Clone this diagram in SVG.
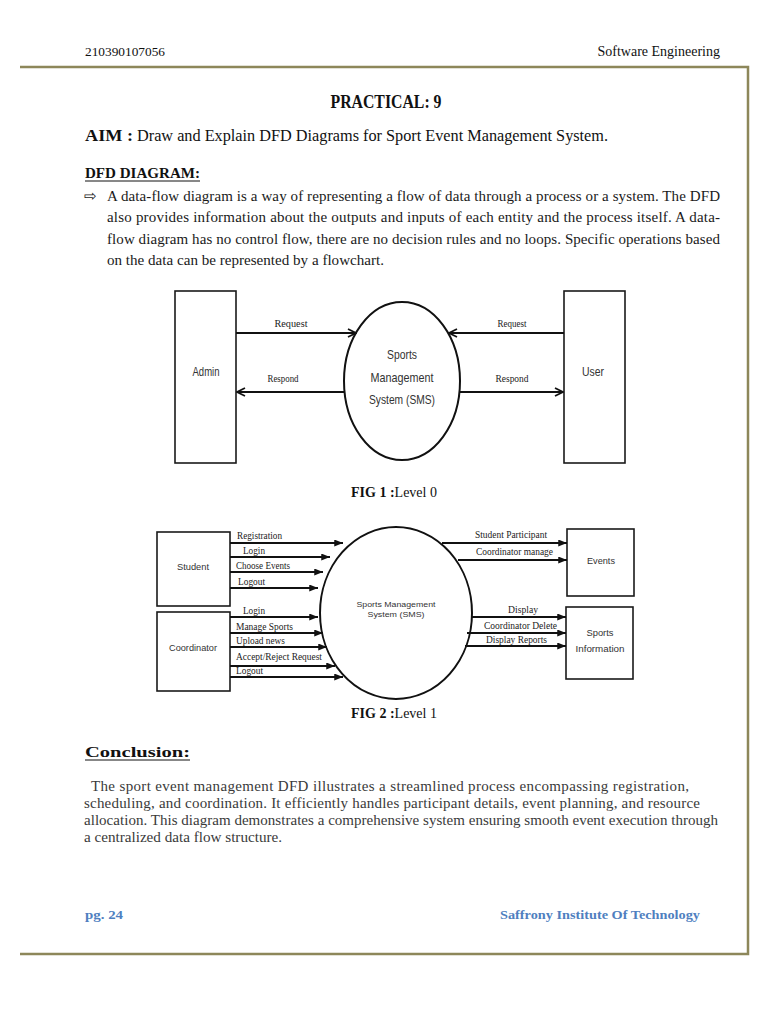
<svg xmlns="http://www.w3.org/2000/svg" width="768" height="1024" viewBox="0 0 768 1024">
<style>
.serif{font-family:"Liberation Serif","Times New Roman",serif;fill:#111}
.body{font-family:"Liberation Serif","Times New Roman",serif;font-size:15px;fill:#1a1a1a}
.concl{font-family:"Liberation Serif","Times New Roman",serif;font-size:15px;fill:#3a3a3a}
.lbl1{font-family:"Liberation Serif",serif;font-size:11px;fill:#222;text-anchor:middle}
.lbl2{font-family:"Liberation Serif",serif;font-size:9.5px;fill:#222}
.sans{font-family:"Liberation Sans",Arial,sans-serif;fill:#333;text-anchor:middle}
.box{fill:#fff;stroke:#1a1a1a;stroke-width:1.6}
.flow1{stroke:#111;stroke-width:2;fill:none}
.flow2{stroke:#111;stroke-width:1.8;fill:none}
.foot{font-family:"Liberation Serif",Cambria,serif;font-weight:bold;font-size:13px;fill:#4f7fbf}
.frame{stroke:#8d875a;stroke-width:2.5;fill:none}
</style>
<defs>
<marker id="open" viewBox="0 0 10 10" refX="9" refY="5" markerWidth="10" markerHeight="10" markerUnits="userSpaceOnUse" orient="auto">
<path d="M1,1 L9,5 L1,9" fill="none" stroke="#111" stroke-width="1.8"/>
</marker>
<marker id="solid" viewBox="0 0 10 8" refX="10" refY="4" markerWidth="9" markerHeight="7" markerUnits="userSpaceOnUse" orient="auto">
<path d="M0,0 L10,4 L0,8 z" fill="#111"/>
</marker>
</defs>
<rect width="768" height="1024" fill="#fff"/>

<!-- page frame -->
<path class="frame" d="M20,67 L748,67 L748,954 L20,954"/>

<!-- header -->
<text class="serif" x="85" y="56" font-size="13.5" textLength="80" lengthAdjust="spacingAndGlyphs">210390107056</text>
<text class="serif" x="720" y="56" font-size="14" text-anchor="end">Software Engineering</text>

<text class="serif" x="386" y="108" font-size="19" font-weight="bold" text-anchor="middle" textLength="111" lengthAdjust="spacingAndGlyphs">PRACTICAL: 9</text>

<text class="serif" x="85" y="141" font-size="17" font-weight="bold" textLength="48" lengthAdjust="spacingAndGlyphs">AIM :</text>
<text class="serif" x="137" y="141" font-size="16" textLength="471" lengthAdjust="spacingAndGlyphs">Draw and Explain DFD Diagrams for Sport Event Management System.</text>

<text class="serif" x="85" y="178" font-size="15" font-weight="bold" textLength="115" lengthAdjust="spacingAndGlyphs">DFD DIAGRAM:</text>
<line x1="85" y1="181" x2="200" y2="181" stroke="#111" stroke-width="1"/>

<text class="body" x="84" y="201" font-size="13">⇨</text>
<text class="body" x="107" y="201" textLength="613" lengthAdjust="spacing">A data-flow diagram is a way of representing a flow of data through a process or a system. The DFD</text>
<text class="body" x="107" y="222" textLength="613" lengthAdjust="spacing">also provides information about the outputs and inputs of each entity and the process itself. A data-</text>
<text class="body" x="107" y="244" textLength="613" lengthAdjust="spacing">flow diagram has no control flow, there are no decision rules and no loops. Specific operations based</text>
<text class="body" x="107" y="265" textLength="277" lengthAdjust="spacingAndGlyphs">on the data can be represented by a flowchart.</text>

<!-- FIG 1 -->
<g id="admin">
<rect class="box" x="175" y="291" width="61" height="172"/>
<text class="sans" x="206" y="376" font-size="12" textLength="27" lengthAdjust="spacingAndGlyphs">Admin</text>
</g>
<g id="user">
<rect class="box" x="564" y="291" width="61" height="172"/>
<text class="sans" x="593" y="376" font-size="12.5" textLength="22" lengthAdjust="spacingAndGlyphs">User</text>
</g>
<g id="sms0">
<ellipse cx="402" cy="381" rx="58" ry="79" fill="#fff" stroke="#111" stroke-width="2"/>
<text class="sans" x="402" y="359" font-size="13" textLength="30" lengthAdjust="spacingAndGlyphs">Sports</text>
<text class="sans" x="402" y="382" font-size="13" textLength="63" lengthAdjust="spacingAndGlyphs">Management</text>
<text class="sans" x="402" y="404" font-size="13" textLength="66" lengthAdjust="spacingAndGlyphs">System (SMS)</text>
</g>
<g id="fig1-connectors">
<line class="flow1" x1="236" y1="333" x2="356" y2="333" marker-end="url(#open)"/>
<line class="flow1" x1="344" y1="392" x2="237" y2="392" marker-end="url(#open)"/>
<line class="flow1" x1="564" y1="333" x2="449" y2="333" marker-end="url(#open)"/>
<line class="flow1" x1="459" y1="392" x2="563" y2="392" marker-end="url(#open)"/>
<text class="lbl1" x="291" y="327" textLength="33" lengthAdjust="spacingAndGlyphs">Request</text>
<text class="lbl1" x="283" y="382" textLength="31" lengthAdjust="spacingAndGlyphs">Respond</text>
<text class="lbl1" x="512" y="327" textLength="29" lengthAdjust="spacingAndGlyphs">Request</text>
<text class="lbl1" x="512" y="382" textLength="33" lengthAdjust="spacingAndGlyphs">Respond</text>
</g>

<text class="serif" x="394" y="497" font-size="14" text-anchor="middle"><tspan font-weight="bold">FIG 1 :</tspan>Level 0</text>

<!-- FIG 2 -->
<g id="student">
<rect class="box" x="157" y="532" width="73" height="74"/>
<text class="sans" x="193" y="570" font-size="9.5" textLength="32" lengthAdjust="spacingAndGlyphs">Student</text>
</g>
<g id="coordinator">
<rect class="box" x="157" y="612" width="73" height="79"/>
<text class="sans" x="193" y="651" font-size="9.5" textLength="48" lengthAdjust="spacingAndGlyphs">Coordinator</text>
</g>
<g id="sms1">
<ellipse cx="396" cy="613" rx="76" ry="86" fill="#fff" stroke="#111" stroke-width="2"/>
<text class="sans" x="396" y="607" font-size="8" textLength="79" lengthAdjust="spacingAndGlyphs">Sports Management</text>
<text class="sans" x="396" y="617" font-size="8" textLength="57" lengthAdjust="spacingAndGlyphs">System (SMS)</text>
</g>
<g id="events">
<rect class="box" x="567" y="529" width="67" height="67"/>
<text class="sans" x="601" y="564" font-size="9.5" textLength="28" lengthAdjust="spacingAndGlyphs">Events</text>
</g>
<g id="sportsinfo">
<rect class="box" x="566" y="607" width="67" height="72"/>
<text class="sans" x="600" y="636" font-size="9.5" textLength="27" lengthAdjust="spacingAndGlyphs">Sports</text>
<text class="sans" x="600" y="652" font-size="9.5" textLength="49" lengthAdjust="spacingAndGlyphs">Information</text>
</g>
<g id="fig2-connectors">
<line class="flow2" x1="230" y1="543" x2="343" y2="543" marker-end="url(#solid)"/>
<line class="flow2" x1="230" y1="557" x2="330" y2="557" marker-end="url(#solid)"/>
<line class="flow2" x1="230" y1="572" x2="323" y2="572" marker-end="url(#solid)"/>
<line class="flow2" x1="230" y1="588" x2="318" y2="588" marker-end="url(#solid)"/>
<line class="flow2" x1="230" y1="617" x2="318" y2="617" marker-end="url(#solid)"/>
<line class="flow2" x1="230" y1="633" x2="323" y2="633" marker-end="url(#solid)"/>
<line class="flow2" x1="230" y1="647" x2="327" y2="647" marker-end="url(#solid)"/>
<line class="flow2" x1="230" y1="666" x2="335" y2="666" marker-end="url(#solid)"/>
<line class="flow2" x1="230" y1="677" x2="343" y2="677" marker-end="url(#solid)"/>
<text class="lbl2" x="237" y="539" textLength="45" lengthAdjust="spacingAndGlyphs">Registration</text>
<text class="lbl2" x="243" y="554" textLength="22" lengthAdjust="spacingAndGlyphs">Login</text>
<text class="lbl2" x="236" y="569" textLength="54" lengthAdjust="spacingAndGlyphs">Choose Events</text>
<text class="lbl2" x="238" y="585" textLength="27" lengthAdjust="spacingAndGlyphs">Logout</text>
<text class="lbl2" x="243" y="614" textLength="22" lengthAdjust="spacingAndGlyphs">Login</text>
<text class="lbl2" x="236" y="630" textLength="57" lengthAdjust="spacingAndGlyphs">Manage Sports</text>
<text class="lbl2" x="236" y="644" textLength="49" lengthAdjust="spacingAndGlyphs">Upload news</text>
<text class="lbl2" x="236" y="660" textLength="86" lengthAdjust="spacingAndGlyphs">Accept/Reject  Request</text>
<text class="lbl2" x="236" y="674" textLength="27" lengthAdjust="spacingAndGlyphs">Logout</text>

<line class="flow2" x1="442" y1="543" x2="567" y2="543" marker-end="url(#solid)"/>
<line class="flow2" x1="458" y1="560" x2="567" y2="560" marker-end="url(#solid)"/>
<line class="flow2" x1="471" y1="617" x2="566" y2="617" marker-end="url(#solid)"/>
<line class="flow2" x1="467" y1="633" x2="566" y2="633" marker-end="url(#solid)"/>
<line class="flow2" x1="465" y1="646" x2="566" y2="646" marker-end="url(#solid)"/>
<text class="lbl2" x="475" y="538" textLength="72" lengthAdjust="spacingAndGlyphs">Student Participant</text>
<text class="lbl2" x="476" y="555" textLength="77" lengthAdjust="spacingAndGlyphs">Coordinator manage</text>
<text class="lbl2" x="508" y="613" textLength="30" lengthAdjust="spacingAndGlyphs">Display</text>
<text class="lbl2" x="484" y="629" textLength="73" lengthAdjust="spacingAndGlyphs">Coordinator Delete</text>
<text class="lbl2" x="486" y="643" textLength="61" lengthAdjust="spacingAndGlyphs">Display Reports</text>
</g>

<text class="serif" x="394" y="718" font-size="14" text-anchor="middle"><tspan font-weight="bold">FIG 2 :</tspan>Level 1</text>

<!-- Conclusion -->
<text class="serif" x="85" y="757" font-size="15" font-weight="bold" textLength="105" lengthAdjust="spacingAndGlyphs">Conclusion:</text>
<line x1="85" y1="760" x2="190" y2="760" stroke="#111" stroke-width="1"/>
<text class="concl" x="91" y="791" textLength="598" lengthAdjust="spacing">The sport event management DFD illustrates a streamlined process encompassing registration,</text>
<text class="concl" x="84" y="808" textLength="616" lengthAdjust="spacing">scheduling, and coordination. It efficiently handles participant details, event planning, and resource</text>
<text class="concl" x="84" y="825" textLength="634" lengthAdjust="spacing">allocation. This diagram demonstrates a comprehensive system ensuring smooth event execution through</text>
<text class="concl" x="84" y="842" textLength="198" lengthAdjust="spacingAndGlyphs">a centralized data flow structure.</text>

<!-- footer -->
<text class="foot" x="85" y="919" textLength="38" lengthAdjust="spacingAndGlyphs">pg. 24</text>
<text class="foot" x="500" y="919" textLength="200" lengthAdjust="spacingAndGlyphs">Saffrony Institute Of Technology</text>
</svg>
